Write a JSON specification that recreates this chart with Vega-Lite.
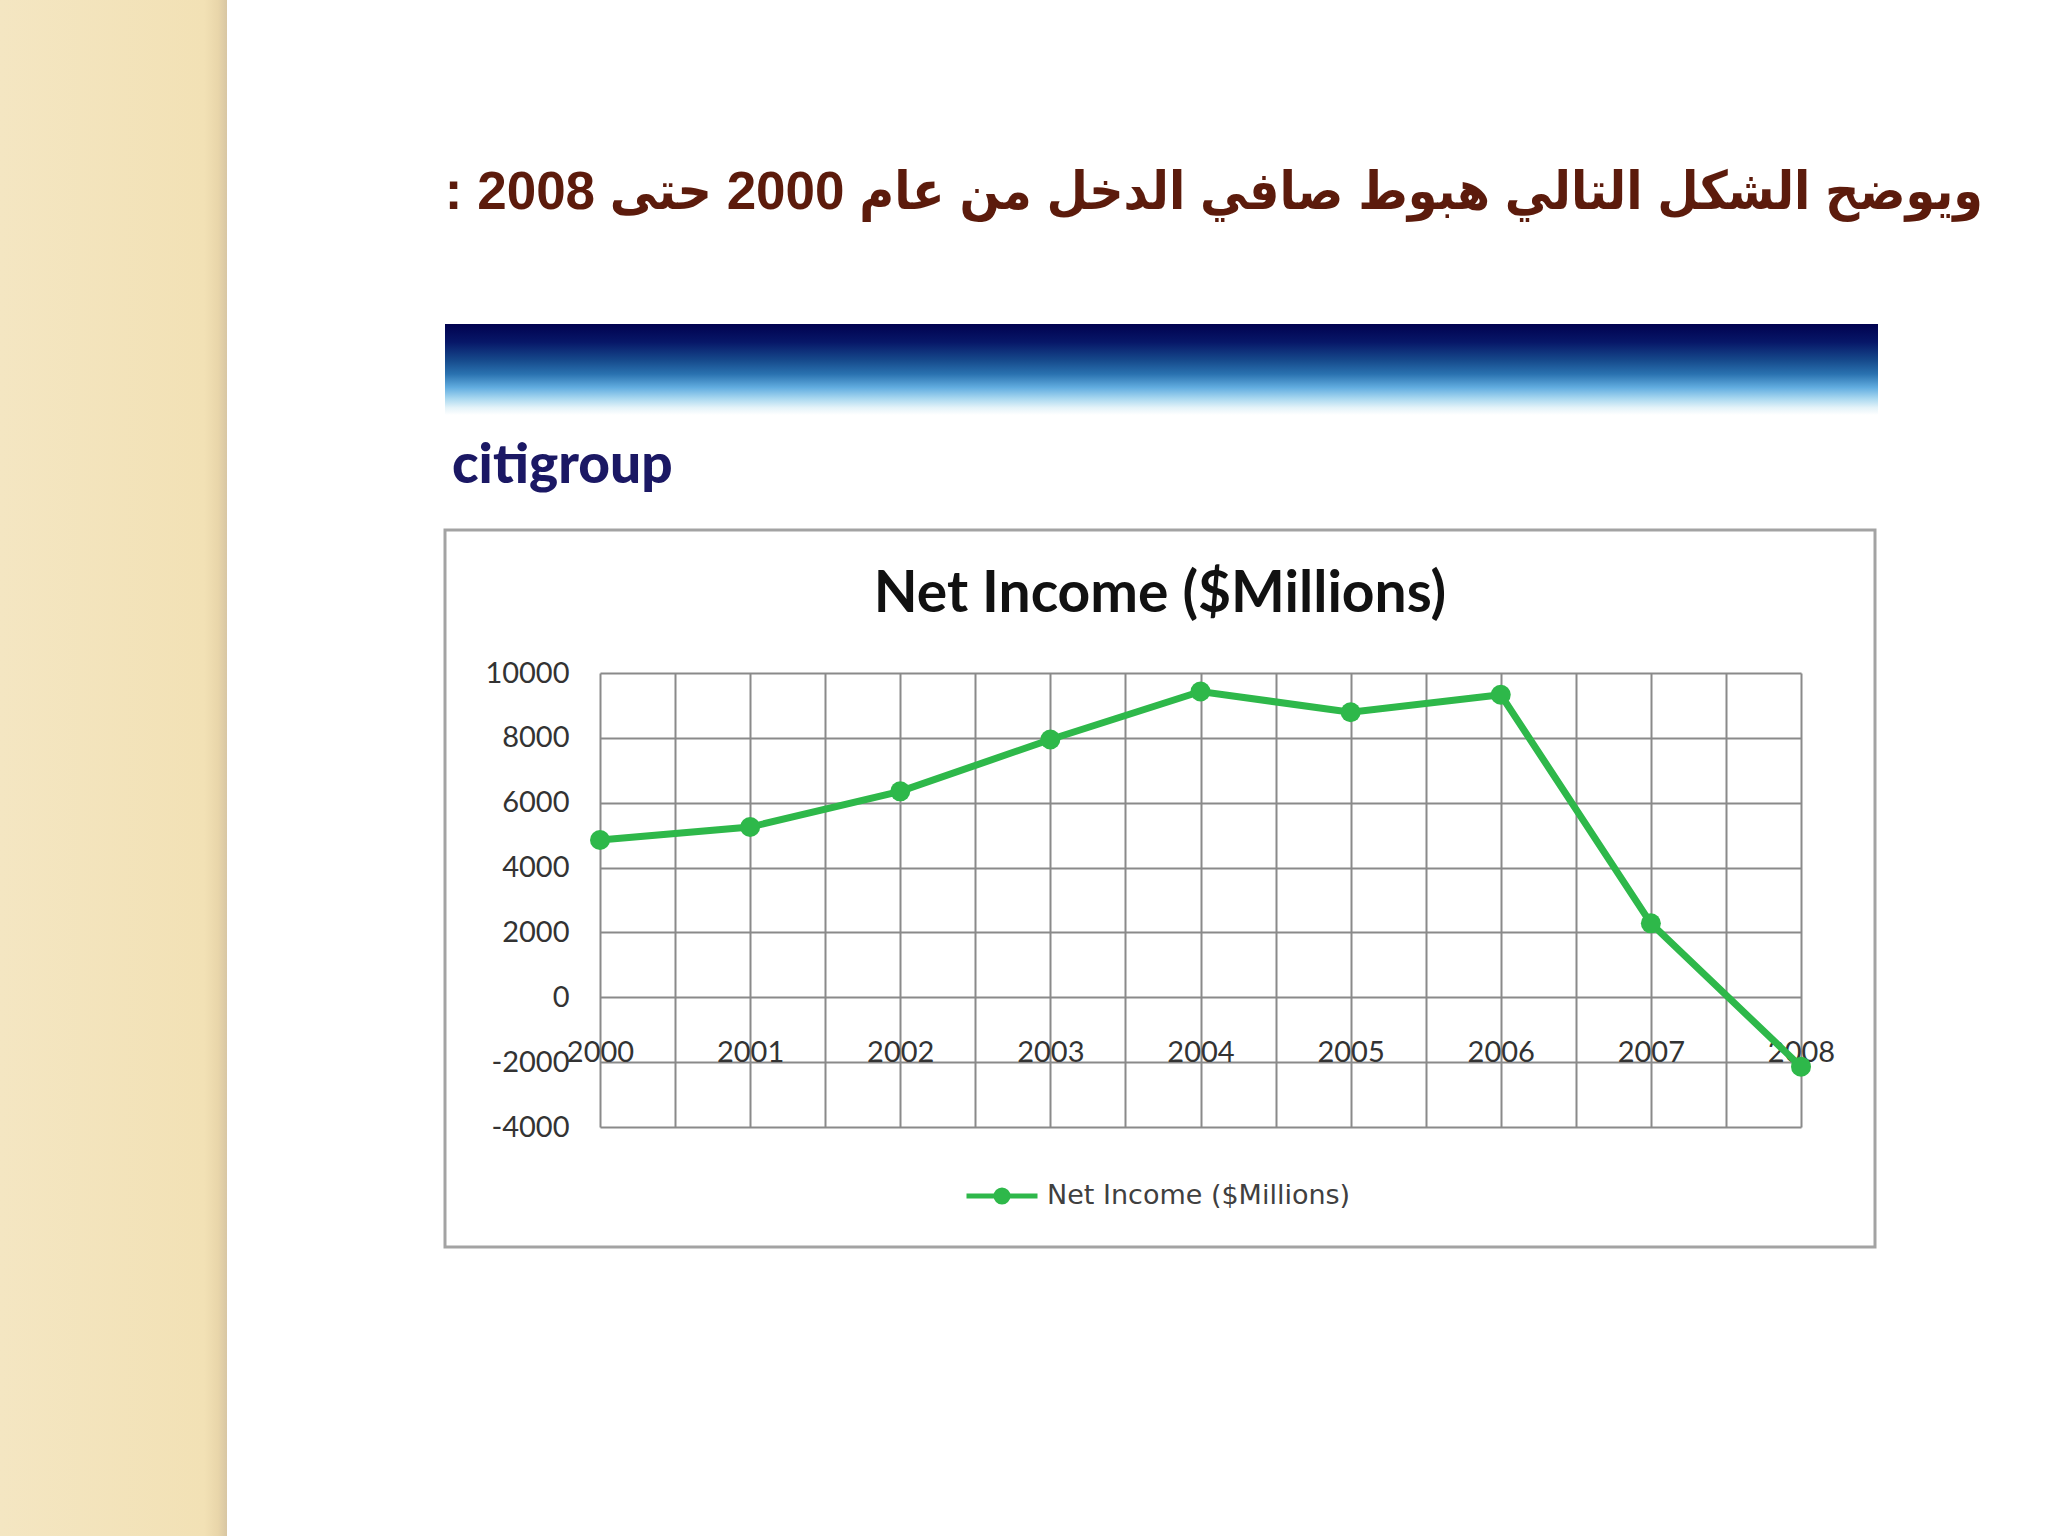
{
  "$schema": "https://vega.github.io/schema/vega-lite/v6.json",
  "padding": 0,
  "background": "#ffffff",
  "bounds": "flush",
  "spacing": 218,
  "config": {"view": {"stroke": null}},
  "hconcat": [
    {
      "width": 227,
      "height": 1536,
      "data": {"values": [{}]},
      "mark": {
        "type": "rect",
        "color": {
          "gradient": "linear", "x1": 0, "y1": 0, "x2": 1, "y2": 0,
          "stops": [
            {"offset": 0, "color": "#f4e6c2"},
            {"offset": 0.9, "color": "#f2e1b5"},
            {"offset": 0.96, "color": "#e9d6aa"},
            {"offset": 1, "color": "#d8c6a2"}
          ]
        }
      }
    },
    {
      "bounds": "flush",
      "spacing": 115,
      "vconcat": [
        {
          "width": 1538,
          "height": 209,
          "data": {"values": [{}]},
          "mark": {"type": "rect", "color": "#ffffff"},
          "title": {
            "text": "ويوضح الشكل التالي هبوط صافي الدخل من عام 2000 حتى 2008 :\u200f",
            "orient": "bottom",
            "anchor": "end",
            "frame": "group",
            "offset": -16,
            "baseline": "middle",
            "font": "Liberation Sans, DejaVu Sans Condensed, DejaVu Sans",
            "fontSize": 53,
            "fontWeight": "bold",
            "color": "#5c1b0c"
          }
        },
        {
          "width": 1433,
          "height": 91,
          "data": {"values": [{}]},
          "mark": {
            "type": "rect",
            "color": {
              "gradient": "linear", "x1": 0, "y1": 0, "x2": 0, "y2": 1,
              "stops": [
                {"offset": 0, "color": "#01024f"},
                {"offset": 0.2, "color": "#071768"},
                {"offset": 0.4, "color": "#164a8c"},
                {"offset": 0.55, "color": "#2a72b0"},
                {"offset": 0.7, "color": "#62ade0"},
                {"offset": 0.82, "color": "#a9d8f0"},
                {"offset": 0.92, "color": "#e4f3f9"},
                {"offset": 1, "color": "#ffffff"}
              ]
            }
          },
          "title": {
            "text": "citigroup",
            "orient": "bottom",
            "anchor": "start",
            "frame": "group",
            "offset": 68,
            "baseline": "alphabetic",
            "dx": 7,
            "font": "Lato",
            "fontWeight": 900,
            "fontSize": 55,
            "color": "#1b1864"
          }
        },
        {
          "width": 1430,
          "height": 717,
          "view": {"stroke": "#a3a3a3", "strokeWidth": 3},
          "title": {
            "text": "Net Income ($Millions)",
            "orient": "top",
            "anchor": "middle",
            "frame": "group",
            "offset": -83,
            "dy": 56,
            "baseline": "alphabetic",
            "font": "Lato",
            "fontWeight": "bold",
            "fontSize": 57,
            "color": "#111111"
          },
          "data": {
            "values": [
              {"year": 2000, "income": 4850},
              {"year": 2001, "income": 5250},
              {"year": 2002, "income": 6350},
              {"year": 2003, "income": 7950},
              {"year": 2004, "income": 9430},
              {"year": 2005, "income": 8790},
              {"year": 2006, "income": 9330},
              {"year": 2007, "income": 2280},
              {"year": 2008, "income": -2140}
            ]
          },
          "encoding": {
            "x": {
              "field": "year",
              "type": "quantitative",
              "scale": {"domain": [2000, 2008], "range": [155, 1356], "nice": false, "zero": false},
              "axis": {
                "orient": "top",
                "offset": -531,
                "values": [2000, 2000.5, 2001, 2001.5, 2002, 2002.5, 2003, 2003.5, 2004, 2004.5, 2005, 2005.5, 2006, 2006.5, 2007, 2007.5, 2008],
                "labelExpr": "datum.value % 1 === 0 ? '' + datum.value : ''",
                "grid": true,
                "gridColor": "#8a8a8a",
                "gridWidth": 2,
                "gridOpacity": 1,
                "domain": false,
                "ticks": false,
                "labelPadding": 0,
                "labelBaseline": "alphabetic",
                "labelAlign": "center",
                "labelFont": "Lato",
                "labelFontSize": 29,
                "labelColor": "#333333",
                "labelOverlap": false,
                "labelFlush": false,
                "labelBound": false,
                "title": null
              }
            },
            "y": {
              "field": "income",
              "type": "quantitative",
              "scale": {"domain": [-4000, 10000], "range": [597, 143], "nice": false, "zero": false},
              "axis": {
                "orient": "left",
                "offset": -155,
                "values": [-4000, -2000, 0, 2000, 4000, 6000, 8000, 10000],
                "labelExpr": "'' + datum.value",
                "grid": true,
                "gridColor": "#8a8a8a",
                "gridWidth": 2,
                "gridOpacity": 1,
                "domain": false,
                "ticks": false,
                "labelPadding": 31,
                "labelFont": "Lato",
                "labelFontSize": 29,
                "labelColor": "#333333",
                "labelOverlap": false,
                "labelFlush": false,
                "labelBound": false,
                "title": null
              }
            },
            "color": {
              "datum": "Net Income ($Millions)",
              "type": "nominal",
              "scale": {"range": ["#2eb84a"]},
              "legend": {
                "orient": "none",
                "legendX": 964,
                "legendY": 1158,
                "title": null,
                "padding": 0,
                "symbolType": "M-1,0H1M0.17,0A0.17,0.17,0,1,1,-0.17,0A0.17,0.17,0,1,1,0.17,0Z",
                "symbolSize": 5041,
                "symbolStrokeWidth": 5,
                "labelFont": "DejaVu Sans",
                "labelFontSize": 27,
                "labelColor": "#404040",
                "labelOffset": 7,
                "labelLimit": 800,
                "encode": {
                  "symbols": {
                    "update": {
                      "fill": {"value": "#2eb84a"},
                      "stroke": {"value": "#2eb84a"},
                      "strokeWidth": {"value": 5},
                      "opacity": {"value": 1}
                    }
                  }
                }
              }
            }
          },
          "layer": [
            {"mark": {"type": "line", "strokeWidth": 7}},
            {"mark": {"type": "point", "filled": true, "size": 400, "opacity": 1, "color": "#22bf3b"}}
          ]
        }
      ]
    }
  ]
}
